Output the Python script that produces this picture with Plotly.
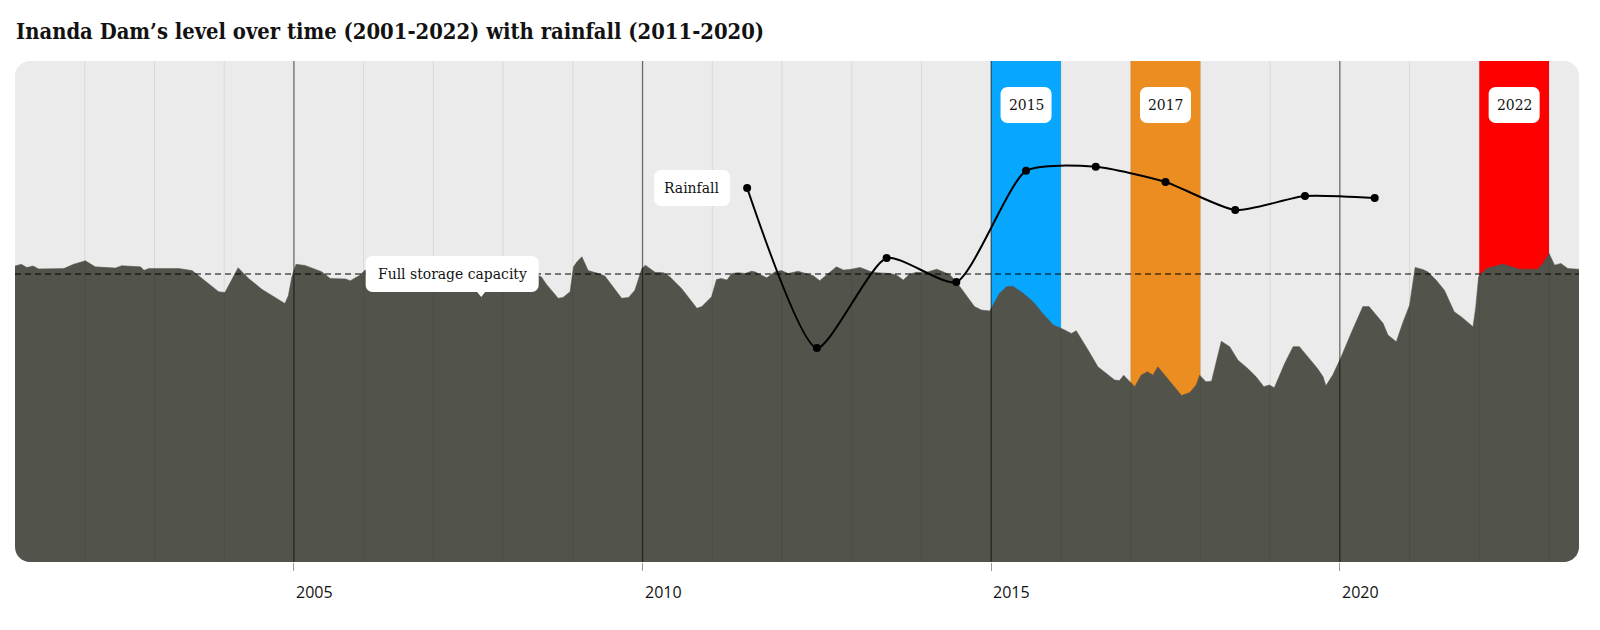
import plotly.graph_objects as go

# ---------------- DATA ----------------
dam_year = [2001.00, 2001.09, 2001.17, 2001.26, 2001.34, 2001.70, 2001.84, 2002.01, 2002.15, 2002.44,
            2002.53, 2002.80, 2002.85, 2002.92, 2003.35, 2003.54, 2003.92, 2004.01, 2004.20, 2004.35,
            2004.54, 2004.87, 2004.92, 2004.97, 2005.03, 2005.16, 2005.40, 2005.52, 2005.74, 2005.81,
            2005.95, 2006.02, 2006.30, 2006.60, 2006.90, 2007.20, 2007.50, 2007.70, 2007.90, 2008.20,
            2008.40, 2008.55, 2008.62, 2008.79, 2008.86, 2008.96, 2009.01, 2009.06, 2009.13, 2009.22,
            2009.37, 2009.46, 2009.70, 2009.80, 2009.89, 2009.99, 2010.04, 2010.18, 2010.30, 2010.39,
            2010.56, 2010.78, 2010.85, 2010.99, 2011.06, 2011.13, 2011.21, 2011.28, 2011.37, 2011.47,
            2011.56, 2011.61, 2011.78, 2011.90, 2011.99, 2012.09, 2012.23, 2012.33, 2012.45, 2012.54,
            2012.64, 2012.78, 2012.88, 2012.97, 2013.12, 2013.19, 2013.28, 2013.36, 2013.55, 2013.64,
            2013.74, 2013.83, 2013.93, 2014.05, 2014.22, 2014.31, 2014.41, 2014.50, 2014.65, 2014.76,
            2014.86, 2014.98, 2015.00, 2015.12, 2015.22, 2015.31, 2015.46, 2015.60, 2015.74, 2015.89,
            2016.01, 2016.15, 2016.22, 2016.29, 2016.39, 2016.53, 2016.68, 2016.77, 2016.84, 2016.90,
            2016.99, 2017.06, 2017.15, 2017.24, 2017.32, 2017.39, 2017.49, 2017.63, 2017.73, 2017.85,
            2017.94, 2017.99, 2018.08, 2018.16, 2018.30, 2018.42, 2018.54, 2018.68, 2018.80, 2018.91,
            2018.99, 2019.06, 2019.21, 2019.33, 2019.42, 2019.54, 2019.68, 2019.76, 2019.80, 2019.90,
            2020.02, 2020.16, 2020.33, 2020.42, 2020.52, 2020.62, 2020.69, 2020.81, 2020.90, 2021.00,
            2021.08, 2021.19, 2021.26, 2021.38, 2021.50, 2021.64, 2021.74, 2021.91, 2021.95, 2021.99,
            2022.10, 2022.34, 2022.46, 2022.58, 2022.84, 2022.93, 2023.00, 2023.08, 2023.17, 2023.27,
            2023.43]
dam_level = [102.8, 103.4, 102.3, 102.8, 101.8, 101.9, 103.4, 104.6, 102.5, 102.1,
             102.9, 102.5, 101.3, 101.9, 101.9, 101.2, 93.9, 93.6, 102.2, 98.5,
             94.7, 89.8, 92.5, 99.0, 103.4, 103.0, 100.8, 98.5, 98.3, 97.7,
             99.7, 101.4, 101.8, 102.2, 101.5, 101.9, 101.2, 100.2, 101.4, 101.6,
             100.8, 99.0, 96.5, 91.6, 91.9, 93.9, 102.5, 104.3, 106.0, 101.2,
             100.2, 99.3, 91.6, 91.9, 94.4, 101.9, 103.1, 100.6, 100.5, 99.1,
             95.0, 88.1, 88.7, 92.1, 98.1, 98.5, 97.9, 100.2, 100.5, 100.2,
             101.0, 100.8, 98.7, 100.8, 101.2, 100.2, 101.0, 100.2, 99.4, 97.7,
             99.7, 102.5, 101.4, 101.6, 102.3, 101.6, 100.8, 100.5, 100.2, 99.7,
             97.9, 100.0, 100.6, 100.5, 101.7, 100.8, 99.7, 97.3, 92.1, 88.7,
             87.5, 87.2, 88.1, 93.3, 95.6, 95.8, 93.3, 90.4, 86.3, 82.3,
             81.1, 79.4, 80.3, 77.7, 73.6, 67.8, 64.9, 63.2, 63.0, 64.9,
             62.6, 60.9, 64.9, 66.1, 64.9, 67.8, 64.9, 60.9, 57.8, 58.9,
             61.5, 64.9, 62.6, 62.8, 76.7, 74.8, 70.1, 67.2, 64.3, 60.9,
             61.5, 60.5, 69.0, 74.8, 74.8, 71.3, 67.2, 64.3, 61.2, 65.0,
             71.3, 79.4, 88.7, 88.7, 85.8, 82.9, 78.8, 76.5, 82.9, 89.2,
             102.3, 101.6, 100.8, 97.9, 94.4, 86.9, 85.2, 81.7, 88.7, 99.1,
             101.9, 103.5, 102.5, 101.7, 101.7, 104.3, 107.2, 103.1, 103.7, 101.9,
             101.7]

rain_year = [2011.5, 2012.5, 2013.5, 2014.5, 2015.5, 2016.5, 2017.5, 2018.5, 2019.5, 2020.5]
rain_mm = [935, 535, 760, 700, 978, 988, 950, 880, 915, 910]

full_capacity = 100
highlight_years = [2015, 2017, 2022]
highlight_labels = ["2015", "2017", "2022"]
highlight_colors = ["#07a6ff", "#ec8d21", "#ff0000"]
major_years = [2005, 2010, 2015, 2020]
tick_labels = ["2005", "2010", "2015", "2020"]
minor_years = [y for y in range(2002, 2024) if y not in major_years]

title_text = "Inanda Dam’s level over time (2001-2022) with rainfall (2011-2020)"

# ---------------- STYLE ----------------
X_RANGE = [2001.0, 2023.43]
Y_RANGE = [0, 174]
Y2_RANGE = [0, 1252.5]
AREA = "#52534a"
BG = "#ebebeb"
SERIF = "DejaVu Serif Condensed, DejaVu Serif, serif"
SANS = "Open Sans, sans-serif"
TXT = "#121212"
LABEL_SIZE = 15.5

fig = go.Figure()

# highlighted year bands
for yr, col in zip(highlight_years, highlight_colors):
    fig.add_shape(type="rect", xref="x", yref="y domain", x0=yr, x1=yr + 1, y0=0, y1=1,
                  fillcolor=col, line_width=0, layer="below")

# dam level area
fig.add_trace(go.Scatter(x=dam_year, y=dam_level, mode="lines", fill="tozeroy",
                         fillcolor=AREA, line=dict(color=AREA, width=0.5),
                         hoverinfo="skip", showlegend=False))

# year grid lines (drawn above the area)
def vlines(years):
    xs, ys = [], []
    for y in years:
        xs += [y, y, None]
        ys += [Y_RANGE[0], Y_RANGE[1], None]
    return xs, ys

gx, gy = vlines(minor_years)
fig.add_trace(go.Scatter(x=gx, y=gy, mode="lines", line=dict(color="rgba(0,0,0,0.08)", width=1),
                         hoverinfo="skip", showlegend=False))
gx, gy = vlines(major_years)
fig.add_trace(go.Scatter(x=gx, y=gy, mode="lines", line=dict(color="rgba(0,0,0,0.55)", width=1.3),
                         hoverinfo="skip", showlegend=False))

# full storage capacity line
fig.add_trace(go.Scatter(x=X_RANGE, y=[full_capacity, full_capacity], mode="lines",
                         line=dict(color="rgba(0,0,0,0.5)", width=2, dash="6px,4px"),
                         hoverinfo="skip", showlegend=False))

# rainfall
fig.add_trace(go.Scatter(x=rain_year, y=rain_mm, yaxis="y2", mode="lines+markers",
                         line=dict(color="#000000", width=2, shape="spline", smoothing=0.6),
                         marker=dict(color="#000000", size=8),
                         hoverinfo="skip", showlegend=False))

# ---------------- helpers for rounded boxes ----------------
K = 0.5523

def rr_path(cx, cy, w, h, r, pointer_x=None):
    x0, x1 = cx - w / 2, cx + w / 2
    y0, y1 = cy - h / 2, cy + h / 2
    k = K * r
    p = f"M{x0 + r},{y0} "
    if pointer_x is not None:
        p += f"L{pointer_x - 4},{y0} L{pointer_x},{y0 - 5} L{pointer_x + 4},{y0} "
    p += (f"L{x1 - r},{y0} C{x1 - r + k},{y0} {x1},{y0 + r - k} {x1},{y0 + r} "
          f"L{x1},{y1 - r} C{x1},{y1 - r + k} {x1 - r + k},{y1} {x1 - r},{y1} "
          f"L{x0 + r},{y1} C{x0 + r - k},{y1} {x0},{y1 - r + k} {x0},{y1 - r} "
          f"L{x0},{y0 + r} C{x0},{y0 + r - k} {x0 + r - k},{y0} {x0 + r},{y0} Z")
    return p

def box(xref, yref, xa, ya, path):
    fig.add_shape(type="path", xref=xref, yref=yref, xsizemode="pixel", ysizemode="pixel",
                  xanchor=xa, yanchor=ya, path=path, fillcolor="#ffffff", line_width=0,
                  layer="above")

# band labels
LABEL_Y = 0.912
for yr, lab in zip(highlight_years, highlight_labels):
    box("x", "y domain", yr + 0.5, LABEL_Y, rr_path(0, 0, 51, 36, 7))
    fig.add_annotation(x=yr + 0.5, y=LABEL_Y, xref="x", yref="y domain", text=lab,
                       xanchor="center", yanchor="middle", showarrow=False,
                       font=dict(family=SERIF, size=LABEL_SIZE, color=TXT))

# rainfall label (left of first point)
box("x", "y2", rain_year[0], rain_mm[0], rr_path(-55, 0, 76, 36, 7))
fig.add_annotation(x=rain_year[0], y=rain_mm[0], xref="x", yref="y2", xshift=-55,
                   xanchor="center", yanchor="middle",
                   text="Rainfall", showarrow=False,
                   font=dict(family=SERIF, size=LABEL_SIZE, color=TXT))

# full storage label
FS_X = 2007.27
box("x", "y", FS_X, full_capacity, rr_path(0, 0, 173, 36, 7, pointer_x=29))
fig.add_annotation(x=FS_X, y=full_capacity, xref="x", yref="y", text="Full storage capacity",
                   xanchor="center", yanchor="middle", showarrow=False,
                   font=dict(family=SERIF, size=LABEL_SIZE, color=TXT))

# rounded plot corners (white masks)
R = 15
for ax_, ay_, dx, dy in [(0, 1, 1, -1), (1, 1, -1, -1), (0, 0, 1, 1), (1, 0, -1, 1)]:
    k = K * R
    path = (f"M{-dx},{-dy} L{dx * R},{-dy} L{dx * R},0 "
            f"C{dx * (R - k)},0 0,{dy * (R - k)} 0,{dy * R} L{-dx},{dy * R} Z")
    fig.add_shape(type="path", xref="x domain", yref="y domain", xsizemode="pixel",
                  ysizemode="pixel", xanchor=ax_, yanchor=ay_, path=path,
                  fillcolor="#ffffff", line_width=0, layer="above")

# x tick labels (left aligned at tick)
for yr, lab in zip(major_years, tick_labels):
    fig.add_annotation(x=yr, y=0, xref="x", yref="paper", yshift=-30, xanchor="left",
                       yanchor="middle", text=lab, showarrow=False,
                       font=dict(family=SANS, size=16, color=TXT))

fig.update_layout(
    width=1600, height=630,
    margin=dict(l=15, r=21, t=61, b=68),
    paper_bgcolor="#ffffff", plot_bgcolor=BG,
    title=dict(text=title_text, x=0.01, xref="container", xanchor="left",
               y=1 - 31 / 630, yref="container", yanchor="middle",
               font=dict(family=SERIF, size=21.8, color=TXT, weight=700)),
    xaxis=dict(range=X_RANGE, showgrid=False, zeroline=False, showline=False,
               tickmode="array", tickvals=major_years, ticks="outside", ticklen=8,
               tickcolor="#999999", tickwidth=1, showticklabels=False, fixedrange=True),
    yaxis=dict(range=Y_RANGE, visible=False, fixedrange=True),
    yaxis2=dict(range=Y2_RANGE, overlaying="y", visible=False, fixedrange=True),
    showlegend=False,
)

fig.write_html("out.html")
